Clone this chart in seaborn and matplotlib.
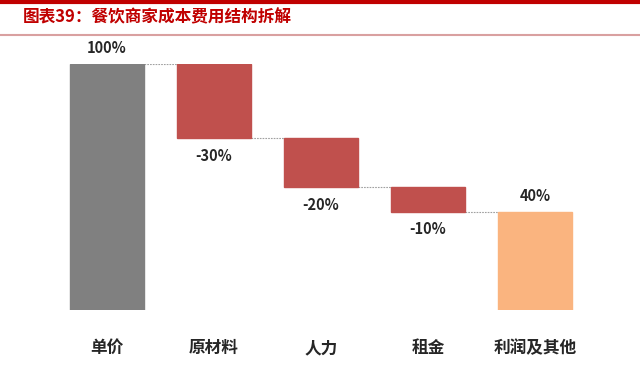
import matplotlib
matplotlib.use("Agg")
import matplotlib.pyplot as plt
import seaborn as sns
import pandas as pd

# data
categories = ["单价", "原材料", "人力", "租金", "利润及其他"]
heights = [100, 30, 20, 10, 40]
bottoms = [0, 70, 50, 40, 0]
labels = ["100%", "-30%", "-20%", "-10%", "40%"]
colors = ["#808080", "#C0504D", "#C0504D", "#C0504D", "#FAB47F"]

sns.set_style("white")
plt.rcParams["font.family"] = ["Noto Sans CJK SC", "DejaVu Sans"]

df = pd.DataFrame({"cat": categories, "h": heights, "b": bottoms})

fig = plt.figure(figsize=(6.4, 3.69), dpi=100)
ax = fig.add_axes([0.0836, 0.160, 0.836, 0.667])

sns.barplot(data=df, x="cat", y="h", color="#808080", width=0.70,
            bottom=df["b"].values, saturation=1, errorbar=None, ax=ax)
for patch, c in zip(ax.patches, colors):
    patch.set_facecolor(c)
    patch.set_edgecolor(c)

ax.set_xlim(-0.5, 4.5)
ax.set_ylim(0, 100)
ax.axis("off")

# connector lines between bars
tops = [b + h for b, h in zip(bottoms, heights)]
levels = [tops[0], bottoms[1], bottoms[2], bottoms[3]]
for i, lv in enumerate(levels):
    ax.plot([i + 0.35, i + 0.65], [lv, lv], color="#A0A0A0", lw=0.8,
            ls=(0, (1.5, 1)), zorder=0)

# value labels
for i, (b, h, lab) in enumerate(zip(bottoms, heights, labels)):
    if lab.startswith("-"):
        ax.text(i, b - 4, lab, ha="center", va="top", fontsize=10.5,
                fontweight="bold", clip_on=False)
    else:
        ax.text(i, b + h + 3, lab, ha="center", va="bottom", fontsize=10.5,
                fontweight="bold", clip_on=False)

# category labels
for i, c in enumerate(categories):
    ax.text(i, -15.5, c, ha="center", va="center", fontsize=12,
            fontweight="bold", clip_on=False)

# header
fig.add_artist(plt.Line2D([0, 1], [0.995, 0.995], color="#C00000", lw=3))
fig.add_artist(plt.Line2D([0, 1], [0.905, 0.905], color="#D9A0A0", lw=1.5))
fig.text(0.035, 0.953, "图表39：餐饮商家成本费用结构拆解", color="#C00000",
         fontsize=12, fontweight="bold", style="italic", va="center")

fig.savefig("out.png", dpi=100)
